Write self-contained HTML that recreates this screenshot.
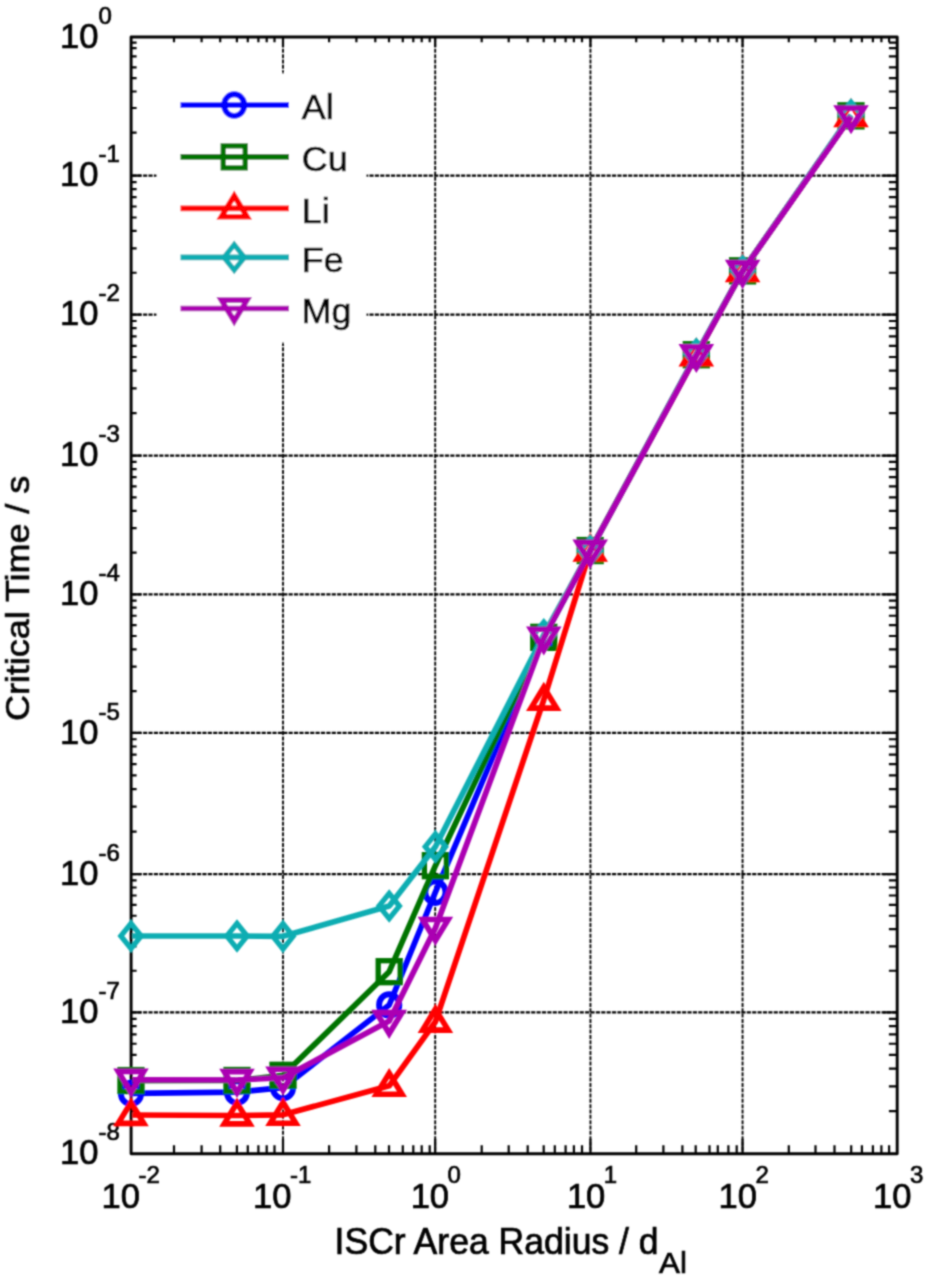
<!DOCTYPE html>
<html><head><meta charset="utf-8"><title>Critical Time vs ISCr Area Radius</title>
<style>html,body{margin:0;padding:0;background:#fff;}svg{display:block;}</style></head>
<body>
<svg width="928" height="1280" viewBox="0 0 928 1280">
<rect width="928" height="1280" fill="#fff"/>
<defs><filter id="bl" x="0" y="0" width="928" height="1280" filterUnits="userSpaceOnUse"><feConvolveMatrix order="5" kernelMatrix="0.00023 0.00332 0.00809 0.00332 0.00023 0.00332 0.04785 0.11640 0.04785 0.00332 0.00809 0.11640 0.28313 0.11640 0.00809 0.00332 0.04785 0.11640 0.04785 0.00332 0.00023 0.00332 0.00809 0.00332 0.00023" edgeMode="duplicate" preserveAlpha="false"/></filter></defs>
<g filter="url(#bl)">
<defs><clipPath id="pc"><rect x="132.50" y="38.40" width="763.30" height="1113.90"/></clipPath></defs>
<path d="M283.00 37.00V1153.70M435.20 37.00V1153.70M590.45 37.00V1153.70M742.55 37.00V1153.70" stroke="#000" stroke-width="1.85" stroke-dasharray="4.0 1.33" stroke-dashoffset="-1.2" fill="none"/>
<path d="M131.10 175.70H897.20M131.10 314.55H897.20M131.10 455.60H897.20M131.10 594.30H897.20M131.10 732.80H897.20M131.10 874.10H897.20M131.10 1012.40H897.20" stroke="#000" stroke-width="2.2" stroke-dasharray="4.15 1.24" stroke-dashoffset="-1.2" fill="none"/>
<path d="M174.00 1153.70v-8.4M174.00 37.00v5.2M201.60 1153.70v-8.4M201.60 37.00v5.2M220.20 1153.70v-8.4M220.20 37.00v5.2M236.90 1153.70v-8.4M236.90 37.00v5.2M247.80 1153.70v-8.4M247.80 37.00v5.2M258.40 1153.70v-8.4M258.40 37.00v5.2M266.70 1153.70v-8.4M266.70 37.00v5.2M274.50 1153.70v-8.4M274.50 37.00v5.2M329.10 1153.70v-8.4M329.10 37.00v5.2M356.40 1153.70v-8.4M356.40 37.00v5.2M375.30 1153.70v-8.4M375.30 37.00v5.2M389.00 1153.70v-8.4M389.00 37.00v5.2M402.80 1153.70v-8.4M402.80 37.00v5.2M413.30 1153.70v-8.4M413.30 37.00v5.2M421.70 1153.70v-8.4M421.70 37.00v5.2M429.70 1153.70v-8.4M429.70 37.00v5.2M481.70 1153.70v-8.4M481.70 37.00v5.2M508.70 1153.70v-8.4M508.70 37.00v5.2M527.70 1153.70v-8.4M527.70 37.00v5.2M543.70 1153.70v-8.4M543.70 37.00v5.2M554.80 1153.70v-8.4M554.80 37.00v5.2M565.60 1153.70v-8.4M565.60 37.00v5.2M573.90 1153.70v-8.4M573.90 37.00v5.2M582.00 1153.70v-8.4M582.00 37.00v5.2M636.20 1153.70v-8.4M636.20 37.00v5.2M663.40 1153.70v-8.4M663.40 37.00v5.2M682.40 1153.70v-8.4M682.40 37.00v5.2M695.70 1153.70v-8.4M695.70 37.00v5.2M709.50 1153.70v-8.4M709.50 37.00v5.2M717.80 1153.70v-8.4M717.80 37.00v5.2M728.40 1153.70v-8.4M728.40 37.00v5.2M736.70 1153.70v-8.4M736.70 37.00v5.2M788.80 1153.70v-8.4M788.80 37.00v5.2M815.50 1153.70v-8.4M815.50 37.00v5.2M834.50 1153.70v-8.4M834.50 37.00v5.2M851.20 1153.70v-8.4M851.20 37.00v5.2M861.90 1153.70v-8.4M861.90 37.00v5.2M872.90 1153.70v-8.4M872.90 37.00v5.2M881.40 1153.70v-8.4M881.40 37.00v5.2M889.10 1153.70v-8.4M889.10 37.00v5.2M283.00 1153.70v-15M283.00 37.00v10M435.20 1153.70v-15M435.20 37.00v10M590.45 1153.70v-15M590.45 37.00v10M742.55 1153.70v-15M742.55 37.00v10M131.10 1111.16h5.5M897.20 1111.16h-8.3M131.10 1086.28h5.5M897.20 1086.28h-8.3M131.10 1068.63h5.5M897.20 1068.63h-8.3M131.10 1054.94h5.5M897.20 1054.94h-8.3M131.10 1043.75h5.5M897.20 1043.75h-8.3M131.10 1034.29h5.5M897.20 1034.29h-8.3M131.10 1026.09h5.5M897.20 1026.09h-8.3M131.10 1018.87h5.5M897.20 1018.87h-8.3M131.10 970.77h5.5M897.20 970.77h-8.3M131.10 946.41h5.5M897.20 946.41h-8.3M131.10 929.14h5.5M897.20 929.14h-8.3M131.10 915.73h5.5M897.20 915.73h-8.3M131.10 904.78h5.5M897.20 904.78h-8.3M131.10 895.52h5.5M897.20 895.52h-8.3M131.10 887.50h5.5M897.20 887.50h-8.3M131.10 880.43h5.5M897.20 880.43h-8.3M131.10 831.56h5.5M897.20 831.56h-8.3M131.10 806.68h5.5M897.20 806.68h-8.3M131.10 789.03h5.5M897.20 789.03h-8.3M131.10 775.34h5.5M897.20 775.34h-8.3M131.10 764.15h5.5M897.20 764.15h-8.3M131.10 754.69h5.5M897.20 754.69h-8.3M131.10 746.49h5.5M897.20 746.49h-8.3M131.10 739.27h5.5M897.20 739.27h-8.3M131.10 691.11h5.5M897.20 691.11h-8.3M131.10 666.72h5.5M897.20 666.72h-8.3M131.10 649.41h5.5M897.20 649.41h-8.3M131.10 635.99h5.5M897.20 635.99h-8.3M131.10 625.03h5.5M897.20 625.03h-8.3M131.10 615.75h5.5M897.20 615.75h-8.3M131.10 607.72h5.5M897.20 607.72h-8.3M131.10 600.64h5.5M897.20 600.64h-8.3M131.10 552.55h5.5M897.20 552.55h-8.3M131.10 528.12h5.5M897.20 528.12h-8.3M131.10 510.79h5.5M897.20 510.79h-8.3M131.10 497.35h5.5M897.20 497.35h-8.3M131.10 486.37h5.5M897.20 486.37h-8.3M131.10 477.08h5.5M897.20 477.08h-8.3M131.10 469.04h5.5M897.20 469.04h-8.3M131.10 461.95h5.5M897.20 461.95h-8.3M131.10 413.14h5.5M897.20 413.14h-8.3M131.10 388.30h5.5M897.20 388.30h-8.3M131.10 370.68h5.5M897.20 370.68h-8.3M131.10 357.01h5.5M897.20 357.01h-8.3M131.10 345.84h5.5M897.20 345.84h-8.3M131.10 336.40h5.5M897.20 336.40h-8.3M131.10 328.22h5.5M897.20 328.22h-8.3M131.10 321.00h5.5M897.20 321.00h-8.3M131.10 272.75h5.5M897.20 272.75h-8.3M131.10 248.30h5.5M897.20 248.30h-8.3M131.10 230.95h5.5M897.20 230.95h-8.3M131.10 217.50h5.5M897.20 217.50h-8.3M131.10 206.50h5.5M897.20 206.50h-8.3M131.10 197.21h5.5M897.20 197.21h-8.3M131.10 189.16h5.5M897.20 189.16h-8.3M131.10 182.05h5.5M897.20 182.05h-8.3M131.10 132.60h5.5M897.20 132.60h-8.3M131.10 108.00h5.5M897.20 108.00h-8.3M131.10 91.50h5.5M897.20 91.50h-8.3M131.10 78.10h5.5M897.20 78.10h-8.3M131.10 67.30h5.5M897.20 67.30h-8.3M131.10 56.40h5.5M897.20 56.40h-8.3M131.10 48.20h5.5M897.20 48.20h-8.3M131.10 42.70h5.5M897.20 42.70h-8.3M131.10 1012.40h10M897.20 1012.40h-14.3M131.10 874.10h10M897.20 874.10h-14.3M131.10 732.80h10M897.20 732.80h-14.3M131.10 594.30h10M897.20 594.30h-14.3M131.10 455.60h10M897.20 455.60h-14.3M131.10 314.55h10M897.20 314.55h-14.3M131.10 175.70h10M897.20 175.70h-14.3" stroke="#000" stroke-width="2.2" fill="none"/>
<rect x="131.10" y="37.00" width="766.10" height="1116.70" fill="none" stroke="#000" stroke-width="2.9" stroke-linejoin="round"/>
<text x="60.1" y="47.70" font-family='"Liberation Sans", Arial, Helvetica, sans-serif' font-size="34.6" fill="#000" stroke="#000" stroke-width="0.7">10<tspan font-size="24.0" dx="0" dy="-24">0</tspan></text>
<text x="60.1" y="186.40" font-family='"Liberation Sans", Arial, Helvetica, sans-serif' font-size="34.6" fill="#000" stroke="#000" stroke-width="0.7">10<tspan font-size="24.0" dx="0" dy="-24">-1</tspan></text>
<text x="60.1" y="325.25" font-family='"Liberation Sans", Arial, Helvetica, sans-serif' font-size="34.6" fill="#000" stroke="#000" stroke-width="0.7">10<tspan font-size="24.0" dx="0" dy="-24">-2</tspan></text>
<text x="60.1" y="466.30" font-family='"Liberation Sans", Arial, Helvetica, sans-serif' font-size="34.6" fill="#000" stroke="#000" stroke-width="0.7">10<tspan font-size="24.0" dx="0" dy="-24">-3</tspan></text>
<text x="60.1" y="605.00" font-family='"Liberation Sans", Arial, Helvetica, sans-serif' font-size="34.6" fill="#000" stroke="#000" stroke-width="0.7">10<tspan font-size="24.0" dx="0" dy="-24">-4</tspan></text>
<text x="60.1" y="743.50" font-family='"Liberation Sans", Arial, Helvetica, sans-serif' font-size="34.6" fill="#000" stroke="#000" stroke-width="0.7">10<tspan font-size="24.0" dx="0" dy="-24">-5</tspan></text>
<text x="60.1" y="884.80" font-family='"Liberation Sans", Arial, Helvetica, sans-serif' font-size="34.6" fill="#000" stroke="#000" stroke-width="0.7">10<tspan font-size="24.0" dx="0" dy="-24">-6</tspan></text>
<text x="60.1" y="1023.10" font-family='"Liberation Sans", Arial, Helvetica, sans-serif' font-size="34.6" fill="#000" stroke="#000" stroke-width="0.7">10<tspan font-size="24.0" dx="0" dy="-24">-7</tspan></text>
<text x="60.1" y="1164.40" font-family='"Liberation Sans", Arial, Helvetica, sans-serif' font-size="34.6" fill="#000" stroke="#000" stroke-width="0.7">10<tspan font-size="24.0" dx="0" dy="-24">-8</tspan></text>
<text x="130.60" y="1208" text-anchor="middle" font-family='"Liberation Sans", Arial, Helvetica, sans-serif' font-size="34.6" fill="#000" stroke="#000" stroke-width="0.7">10<tspan font-size="24.0" dx="-1.5" dy="-24.6">-2</tspan></text>
<text x="282.10" y="1208" text-anchor="middle" font-family='"Liberation Sans", Arial, Helvetica, sans-serif' font-size="34.6" fill="#000" stroke="#000" stroke-width="0.7">10<tspan font-size="24.0" dx="-1.5" dy="-24.6">-1</tspan></text>
<text x="435.80" y="1208" text-anchor="middle" font-family='"Liberation Sans", Arial, Helvetica, sans-serif' font-size="34.6" fill="#000" stroke="#000" stroke-width="0.7">10<tspan font-size="24.0" dx="-1.5" dy="-24.6">0</tspan></text>
<text x="592.05" y="1208" text-anchor="middle" font-family='"Liberation Sans", Arial, Helvetica, sans-serif' font-size="34.6" fill="#000" stroke="#000" stroke-width="0.7">10<tspan font-size="24.0" dx="-1.5" dy="-24.6">1</tspan></text>
<text x="743.75" y="1208" text-anchor="middle" font-family='"Liberation Sans", Arial, Helvetica, sans-serif' font-size="34.6" fill="#000" stroke="#000" stroke-width="0.7">10<tspan font-size="24.0" dx="-1.5" dy="-24.6">2</tspan></text>
<text x="898.10" y="1208" text-anchor="middle" font-family='"Liberation Sans", Arial, Helvetica, sans-serif' font-size="34.6" fill="#000" stroke="#000" stroke-width="0.7">10<tspan font-size="24.0" dx="-1.5" dy="-24.6">3</tspan></text>
<rect x="157" y="73.5" width="209" height="269" fill="#fff"/>
<polyline points="131.00,1093.40 237.00,1092.20 283.00,1087.70 389.20,1005.00 435.40,892.20 543.80,637.00 590.20,550.80 696.30,355.00 742.60,271.00 851.00,116.00" fill="none" stroke="#0000ff" stroke-width="5.7" stroke-linejoin="round" clip-path="url(#pc)"/>
<ellipse cx="131.00" cy="1093.40" rx="10.1" ry="10.8" fill="none" stroke="#0000ff" stroke-width="5.9" stroke-linejoin="miter" stroke-miterlimit="10"/>
<ellipse cx="237.00" cy="1092.20" rx="10.1" ry="10.8" fill="none" stroke="#0000ff" stroke-width="5.9" stroke-linejoin="miter" stroke-miterlimit="10"/>
<ellipse cx="283.00" cy="1087.70" rx="10.1" ry="10.8" fill="none" stroke="#0000ff" stroke-width="5.9" stroke-linejoin="miter" stroke-miterlimit="10"/>
<ellipse cx="389.20" cy="1005.00" rx="10.1" ry="10.8" fill="none" stroke="#0000ff" stroke-width="5.9" stroke-linejoin="miter" stroke-miterlimit="10"/>
<ellipse cx="435.40" cy="892.20" rx="10.1" ry="10.8" fill="none" stroke="#0000ff" stroke-width="5.9" stroke-linejoin="miter" stroke-miterlimit="10"/>
<ellipse cx="543.80" cy="637.00" rx="10.1" ry="10.8" fill="none" stroke="#0000ff" stroke-width="5.9" stroke-linejoin="miter" stroke-miterlimit="10"/>
<ellipse cx="590.20" cy="550.80" rx="10.1" ry="10.8" fill="none" stroke="#0000ff" stroke-width="5.9" stroke-linejoin="miter" stroke-miterlimit="10"/>
<ellipse cx="696.30" cy="355.00" rx="10.1" ry="10.8" fill="none" stroke="#0000ff" stroke-width="5.9" stroke-linejoin="miter" stroke-miterlimit="10"/>
<ellipse cx="742.60" cy="271.00" rx="10.1" ry="10.8" fill="none" stroke="#0000ff" stroke-width="5.9" stroke-linejoin="miter" stroke-miterlimit="10"/>
<ellipse cx="851.00" cy="116.00" rx="10.1" ry="10.8" fill="none" stroke="#0000ff" stroke-width="5.9" stroke-linejoin="miter" stroke-miterlimit="10"/>
<polyline points="131.00,1080.60 237.00,1080.50 283.00,1075.30 389.20,971.70 435.40,865.70 543.80,637.35 590.20,550.55 696.30,354.75 742.60,270.85 851.00,115.85" fill="none" stroke="#007300" stroke-width="5.7" stroke-linejoin="round" clip-path="url(#pc)"/>
<rect x="120.00" y="1069.60" width="22.00" height="22.00" fill="none" stroke="#007300" stroke-width="5.3" stroke-linejoin="miter" stroke-miterlimit="10"/>
<rect x="226.00" y="1069.50" width="22.00" height="22.00" fill="none" stroke="#007300" stroke-width="5.3" stroke-linejoin="miter" stroke-miterlimit="10"/>
<rect x="272.00" y="1064.30" width="22.00" height="22.00" fill="none" stroke="#007300" stroke-width="5.3" stroke-linejoin="miter" stroke-miterlimit="10"/>
<rect x="378.20" y="960.70" width="22.00" height="22.00" fill="none" stroke="#007300" stroke-width="5.3" stroke-linejoin="miter" stroke-miterlimit="10"/>
<rect x="424.40" y="854.70" width="22.00" height="22.00" fill="none" stroke="#007300" stroke-width="5.3" stroke-linejoin="miter" stroke-miterlimit="10"/>
<rect x="532.80" y="626.35" width="22.00" height="22.00" fill="none" stroke="#007300" stroke-width="5.3" stroke-linejoin="miter" stroke-miterlimit="10"/>
<rect x="579.20" y="539.55" width="22.00" height="22.00" fill="none" stroke="#007300" stroke-width="5.3" stroke-linejoin="miter" stroke-miterlimit="10"/>
<rect x="685.30" y="343.75" width="22.00" height="22.00" fill="none" stroke="#007300" stroke-width="5.3" stroke-linejoin="miter" stroke-miterlimit="10"/>
<rect x="731.60" y="259.85" width="22.00" height="22.00" fill="none" stroke="#007300" stroke-width="5.3" stroke-linejoin="miter" stroke-miterlimit="10"/>
<rect x="840.00" y="104.85" width="22.00" height="22.00" fill="none" stroke="#007300" stroke-width="5.3" stroke-linejoin="miter" stroke-miterlimit="10"/>
<polyline points="131.00,1115.00 237.00,1115.50 283.00,1114.80 389.20,1085.85 435.40,1021.75 543.80,699.75 590.20,550.60 696.30,355.20 742.60,271.00 851.00,116.00" fill="none" stroke="#ff0000" stroke-width="5.7" stroke-linejoin="round" clip-path="url(#pc)"/>
<path d="M131.00 1102.45L143.80 1123.40L118.20 1123.40Z" fill="none" stroke="#ff0000" stroke-width="5.6" stroke-linejoin="miter" stroke-miterlimit="10"/>
<path d="M237.00 1102.95L249.80 1123.90L224.20 1123.90Z" fill="none" stroke="#ff0000" stroke-width="5.6" stroke-linejoin="miter" stroke-miterlimit="10"/>
<path d="M283.00 1102.25L295.80 1123.20L270.20 1123.20Z" fill="none" stroke="#ff0000" stroke-width="5.6" stroke-linejoin="miter" stroke-miterlimit="10"/>
<path d="M389.20 1073.30L402.00 1094.25L376.40 1094.25Z" fill="none" stroke="#ff0000" stroke-width="5.6" stroke-linejoin="miter" stroke-miterlimit="10"/>
<path d="M435.40 1009.20L448.20 1030.15L422.60 1030.15Z" fill="none" stroke="#ff0000" stroke-width="5.6" stroke-linejoin="miter" stroke-miterlimit="10"/>
<path d="M543.80 687.20L556.60 708.15L531.00 708.15Z" fill="none" stroke="#ff0000" stroke-width="5.6" stroke-linejoin="miter" stroke-miterlimit="10"/>
<path d="M590.20 538.05L603.00 559.00L577.40 559.00Z" fill="none" stroke="#ff0000" stroke-width="5.6" stroke-linejoin="miter" stroke-miterlimit="10"/>
<path d="M696.30 342.65L709.10 363.60L683.50 363.60Z" fill="none" stroke="#ff0000" stroke-width="5.6" stroke-linejoin="miter" stroke-miterlimit="10"/>
<path d="M742.60 258.45L755.40 279.40L729.80 279.40Z" fill="none" stroke="#ff0000" stroke-width="5.6" stroke-linejoin="miter" stroke-miterlimit="10"/>
<path d="M851.00 103.45L863.80 124.40L838.20 124.40Z" fill="none" stroke="#ff0000" stroke-width="5.6" stroke-linejoin="miter" stroke-miterlimit="10"/>
<polyline points="131.00,936.00 237.00,936.00 283.00,936.30 389.20,906.00 435.40,846.70 543.80,634.75 590.20,550.75 696.30,354.00 742.60,270.85 851.00,114.85" fill="none" stroke="#10adb2" stroke-width="5.7" stroke-linejoin="round" clip-path="url(#pc)"/>
<path d="M131.00 923.30L141.20 936.00L131.00 948.70L120.80 936.00Z" fill="none" stroke="#10adb2" stroke-width="5.2" stroke-linejoin="miter" stroke-miterlimit="10"/>
<path d="M237.00 923.30L247.20 936.00L237.00 948.70L226.80 936.00Z" fill="none" stroke="#10adb2" stroke-width="5.2" stroke-linejoin="miter" stroke-miterlimit="10"/>
<path d="M283.00 923.60L293.20 936.30L283.00 949.00L272.80 936.30Z" fill="none" stroke="#10adb2" stroke-width="5.2" stroke-linejoin="miter" stroke-miterlimit="10"/>
<path d="M389.20 893.30L399.40 906.00L389.20 918.70L379.00 906.00Z" fill="none" stroke="#10adb2" stroke-width="5.2" stroke-linejoin="miter" stroke-miterlimit="10"/>
<path d="M435.40 834.00L445.60 846.70L435.40 859.40L425.20 846.70Z" fill="none" stroke="#10adb2" stroke-width="5.2" stroke-linejoin="miter" stroke-miterlimit="10"/>
<path d="M543.80 622.05L554.00 634.75L543.80 647.45L533.60 634.75Z" fill="none" stroke="#10adb2" stroke-width="5.2" stroke-linejoin="miter" stroke-miterlimit="10"/>
<path d="M590.20 538.05L600.40 550.75L590.20 563.45L580.00 550.75Z" fill="none" stroke="#10adb2" stroke-width="5.2" stroke-linejoin="miter" stroke-miterlimit="10"/>
<path d="M696.30 341.30L706.50 354.00L696.30 366.70L686.10 354.00Z" fill="none" stroke="#10adb2" stroke-width="5.2" stroke-linejoin="miter" stroke-miterlimit="10"/>
<path d="M742.60 258.15L752.80 270.85L742.60 283.55L732.40 270.85Z" fill="none" stroke="#10adb2" stroke-width="5.2" stroke-linejoin="miter" stroke-miterlimit="10"/>
<path d="M851.00 102.15L861.20 114.85L851.00 127.55L840.80 114.85Z" fill="none" stroke="#10adb2" stroke-width="5.2" stroke-linejoin="miter" stroke-miterlimit="10"/>
<polyline points="131.00,1079.80 237.00,1080.00 283.00,1077.70 389.20,1021.00 435.40,927.90 543.80,637.60 590.20,550.80 696.30,355.20 742.60,271.00 851.00,116.40" fill="none" stroke="#ab00b2" stroke-width="5.7" stroke-linejoin="round" clip-path="url(#pc)"/>
<path d="M131.00 1092.35L143.80 1071.40L118.20 1071.40Z" fill="none" stroke="#ab00b2" stroke-width="5.6" stroke-linejoin="miter" stroke-miterlimit="10"/>
<path d="M237.00 1092.55L249.80 1071.60L224.20 1071.60Z" fill="none" stroke="#ab00b2" stroke-width="5.6" stroke-linejoin="miter" stroke-miterlimit="10"/>
<path d="M283.00 1090.25L295.80 1069.30L270.20 1069.30Z" fill="none" stroke="#ab00b2" stroke-width="5.6" stroke-linejoin="miter" stroke-miterlimit="10"/>
<path d="M389.20 1033.55L402.00 1012.60L376.40 1012.60Z" fill="none" stroke="#ab00b2" stroke-width="5.6" stroke-linejoin="miter" stroke-miterlimit="10"/>
<path d="M435.40 940.45L448.20 919.50L422.60 919.50Z" fill="none" stroke="#ab00b2" stroke-width="5.6" stroke-linejoin="miter" stroke-miterlimit="10"/>
<path d="M543.80 650.15L556.60 629.20L531.00 629.20Z" fill="none" stroke="#ab00b2" stroke-width="5.6" stroke-linejoin="miter" stroke-miterlimit="10"/>
<path d="M590.20 563.35L603.00 542.40L577.40 542.40Z" fill="none" stroke="#ab00b2" stroke-width="5.6" stroke-linejoin="miter" stroke-miterlimit="10"/>
<path d="M696.30 367.75L709.10 346.80L683.50 346.80Z" fill="none" stroke="#ab00b2" stroke-width="5.6" stroke-linejoin="miter" stroke-miterlimit="10"/>
<path d="M742.60 283.55L755.40 262.60L729.80 262.60Z" fill="none" stroke="#ab00b2" stroke-width="5.6" stroke-linejoin="miter" stroke-miterlimit="10"/>
<path d="M851.00 128.95L863.80 108.00L838.20 108.00Z" fill="none" stroke="#ab00b2" stroke-width="5.6" stroke-linejoin="miter" stroke-miterlimit="10"/>
<path d="M180.5 105.10H289" stroke="#0000ff" stroke-width="5.7" fill="none"/>
<ellipse cx="234.20" cy="105.10" rx="10.1" ry="10.8" fill="none" stroke="#0000ff" stroke-width="5.9" stroke-linejoin="miter" stroke-miterlimit="10"/>
<text transform="translate(301.8 119.30) scale(1 0.995)" font-family='"Liberation Sans", Arial, Helvetica, sans-serif' font-size="35.8" fill="#000" stroke="#000" stroke-width="0.7">Al</text>
<path d="M180.5 156.90H289" stroke="#007300" stroke-width="5.7" fill="none"/>
<rect x="223.20" y="145.90" width="22.00" height="22.00" fill="none" stroke="#007300" stroke-width="5.3" stroke-linejoin="miter" stroke-miterlimit="10"/>
<text transform="translate(301.8 171.10) scale(1 0.995)" font-family='"Liberation Sans", Arial, Helvetica, sans-serif' font-size="35.8" fill="#000" stroke="#000" stroke-width="0.7">Cu</text>
<path d="M180.5 208.30H289" stroke="#ff0000" stroke-width="5.7" fill="none"/>
<path d="M234.20 195.75L247.00 216.70L221.40 216.70Z" fill="none" stroke="#ff0000" stroke-width="5.6" stroke-linejoin="miter" stroke-miterlimit="10"/>
<text transform="translate(301.8 222.50) scale(1 0.995)" font-family='"Liberation Sans", Arial, Helvetica, sans-serif' font-size="35.8" fill="#000" stroke="#000" stroke-width="0.7">Li</text>
<path d="M180.5 257.40H289" stroke="#10adb2" stroke-width="5.7" fill="none"/>
<path d="M234.20 244.70L244.40 257.40L234.20 270.10L224.00 257.40Z" fill="none" stroke="#10adb2" stroke-width="5.2" stroke-linejoin="miter" stroke-miterlimit="10"/>
<text transform="translate(301.8 271.60) scale(1 0.995)" font-family='"Liberation Sans", Arial, Helvetica, sans-serif' font-size="35.8" fill="#000" stroke="#000" stroke-width="0.7">Fe</text>
<path d="M180.5 308.50H289" stroke="#ab00b2" stroke-width="5.7" fill="none"/>
<path d="M234.20 321.05L247.00 300.10L221.40 300.10Z" fill="none" stroke="#ab00b2" stroke-width="5.6" stroke-linejoin="miter" stroke-miterlimit="10"/>
<text transform="translate(301.8 322.70) scale(1 0.995)" font-family='"Liberation Sans", Arial, Helvetica, sans-serif' font-size="35.8" fill="#000" stroke="#000" stroke-width="0.7">Mg</text>
<text transform="translate(334.6 1254.3) scale(1 1.015)" font-family='"Liberation Sans", Arial, Helvetica, sans-serif' font-size="35.56" fill="#000" stroke="#000" stroke-width="0.7">ISCr Area Radius / d</text>
<text transform="translate(659 1272.8) scale(1.058 1)" font-family='"Liberation Sans", Arial, Helvetica, sans-serif' font-size="29.6" fill="#000" stroke="#000" stroke-width="0.7">Al</text>
<text transform="translate(29.1 720.9) rotate(-90) scale(1 0.944)" font-family='"Liberation Sans", Arial, Helvetica, sans-serif' font-size="35.9" fill="#000" stroke="#000" stroke-width="0.7">Critical Time / s</text>
</g>
</svg>
</body></html>
